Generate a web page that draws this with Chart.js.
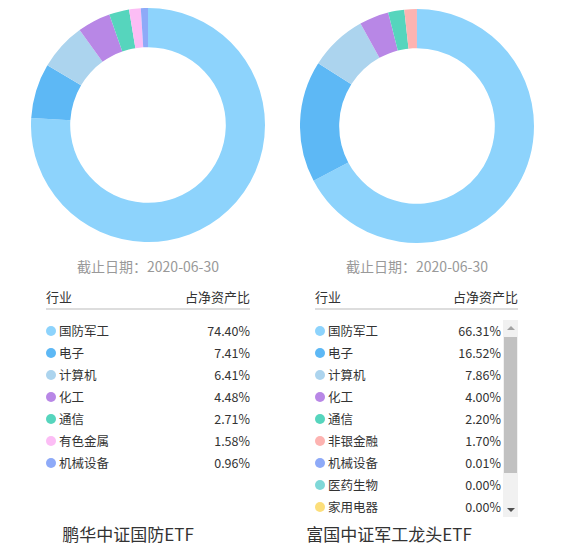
<!DOCTYPE html>
<html>
<head>
<meta charset="utf-8">
<script src="https://cdn.jsdelivr.net/npm/chart.js@4"></script>
<style>
  body { margin: 0; width: 562px; height: 554px; background: #fff; position: relative; overflow: hidden;
         font-family: "Noto Sans CJK SC", "Noto Sans", sans-serif; color: #333; }
  .abs { position: absolute; }
  canvas { position: absolute; }
  .date { font-size: 14px; color: #999; text-align: center; width: 240px; line-height: 20px; }
  .head { font-size: 13px; line-height: 20px; }
  .rule { height: 2px; background: #ddd; }
  .row { position: absolute; font-size: 12.5px; line-height: 22px; height: 22px; }
  .dot { position: absolute; width: 10px; height: 10px; border-radius: 50%; top: 6px; }
  .title { font-size: 17px; text-align: center; width: 240px; line-height: 24px; }
  .track { background: #f1f1f1; }
  .thumb { background: #c1c1c1; }
</style>
</head>
<body>
<canvas id="pie1" width="234" height="234" style="left:31px;top:8px"></canvas>
<canvas id="pie2" width="234" height="234" style="left:300px;top:9px"></canvas>
<div id="table1"></div>
<div id="table2"></div>
<script>
// data
const fund1 = '鹏华中证国防ETF';
const industries1 = ['国防军工', '电子', '计算机', '化工', '通信', '有色金属', '机械设备'];
const shares1 = [74.40, 7.41, 6.41, 4.48, 2.71, 1.58, 0.96];

const fund2 = '富国中证军工龙头ETF';
const industries2 = ['国防军工', '电子', '计算机', '化工', '通信', '非银金融', '机械设备', '医药生物', '家用电器'];
const shares2 = [66.31, 16.52, 7.86, 4.00, 2.20, 1.70, 0.01, 0.00, 0.00];

const reportDate = '2020-06-30';

// colours per industry
const industryColors = {
    '国防军工': '#8dd3fc',
    '电子': '#5db8f5',
    '计算机': '#acd4ee',
    '化工': '#b887e6',
    '通信': '#56d5bd',
    '有色金属': '#fcbdf5',
    '机械设备': '#8eaaf8',
    '非银金融': '#fdb3b1',
    '医药生物': '#7fd8d8',
    '家用电器': '#fcde7a',
};

function makeDoughnut(id, labels, values) {
    const ctx = document.getElementById(id).getContext('2d');
    return new Chart(ctx, {
        type: 'doughnut',
        data: {
            labels: labels,
            datasets: [{
                data: values,
                backgroundColor: labels.map(l => industryColors[l]),
                borderWidth: 0,
                hoverOffset: 0,
            }],
        },
        options: {
            responsive: false,
            animation: false,
            cutout: '66.5%',
            layout: { padding: 0 },
            plugins: { legend: { display: false }, tooltip: { enabled: false } },
        },
    });
}

makeDoughnut('pie1', industries1, shares1);
makeDoughnut('pie2', industries2, shares2);

// table with date, header, rows and title
function makeTable(el, cx, left, right, valueRight, labels, values, title, titleX) {
    let html = '';
    html += `<div class="abs date" style="left:${cx - 120}px;top:256px">截止日期：${reportDate}</div>`;
    html += `<div class="abs head" style="left:${left}px;top:287px">行业</div>`;
    html += `<div class="abs head" style="left:${left}px;width:${right - left}px;top:287px;text-align:right">占净资产比</div>`;
    html += `<div class="abs rule" style="left:${left}px;width:${right - left}px;top:308px"></div>`;
    labels.forEach((label, i) => {
        const top = 320 + i * 22;
        html += `<div class="row" style="left:${left}px;width:${valueRight - left}px;top:${top}px">`
            + `<span class="dot" style="left:0;background:${industryColors[label]}"></span>`
            + `<span style="position:absolute;left:13px">${label}</span>`
            + `<span style="position:absolute;right:0">${values[i].toFixed(2)}%</span></div>`;
    });
    html += `<div class="abs title" style="left:${titleX - 120}px;top:522px">${title}</div>`;
    el.innerHTML = html;
}

makeTable(document.getElementById('table1'), 148, 46, 250, 250, industries1, shares1, fund1, 128);
makeTable(document.getElementById('table2'), 417, 315, 518, 501, industries2, shares2, fund2, 389);

// scrollbar look on the second table
const sb = document.createElement('div');
sb.innerHTML =
    '<div class="abs track" style="left:503px;top:320px;width:15px;height:197px"></div>' +
    '<div class="abs thumb" style="left:504px;top:337px;width:13px;height:136px"></div>' +
    '<div class="abs" style="left:507px;top:326px;width:0;height:0;border-left:4px solid transparent;border-right:4px solid transparent;border-bottom:4px solid #a3a3a3"></div>' +
    '<div class="abs" style="left:507px;top:508px;width:0;height:0;border-left:4px solid transparent;border-right:4px solid transparent;border-top:4px solid #505050"></div>';
document.body.appendChild(sb);
</script>
</body>
</html>
